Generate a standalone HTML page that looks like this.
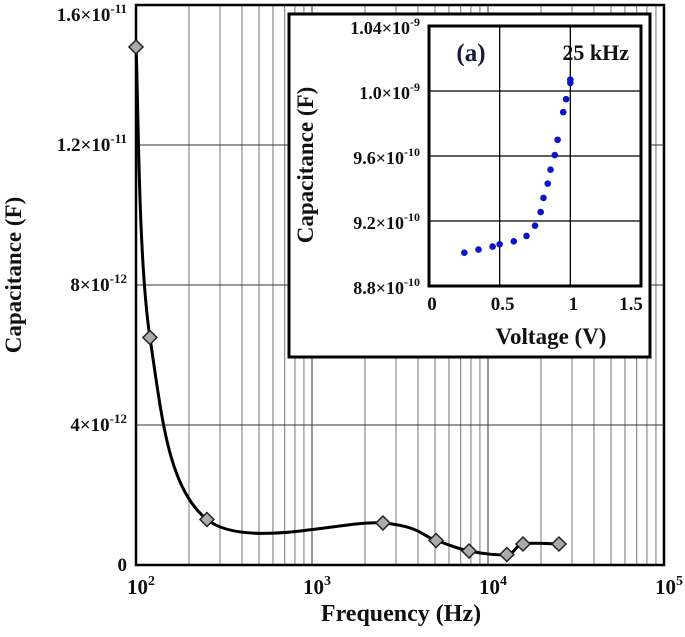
<!DOCTYPE html>
<html><head><meta charset="utf-8"><style>
body{margin:0;background:#fff;}
svg text{font-family:"Liberation Serif",serif;font-weight:bold;fill:#111;}
</style></head><body>
<svg id="chart" width="685" height="632" xmlns="http://www.w3.org/2000/svg"></svg>
<script>
const freqs=[100,120,253,2530,5070,7800,12800,15800,25300];
const caps=[14.8,6.5,1.3,1.2,0.7,0.4,0.3,0.6,0.6]; // x1e-12 F
const yTicks=[0,4,8,12,16];
const yTickLabels=["0","4×10","8×10","1.2×10","1.6×10"];
const yTickExp=["","-12","-12","-11","-11"];
const xDecades=[2,3,4,5];
const volts=[0.25,0.35,0.45,0.50,0.60,0.69,0.75,0.79,0.81,0.84,0.86,0.89,0.91,0.95,0.97,1.0,1.0];
const icaps=[9.005,9.024,9.043,9.057,9.075,9.108,9.171,9.255,9.342,9.43,9.516,9.606,9.70,9.87,9.95,10.05,10.07]; // x1e-10 F
const iyTicks=[8.8,9.2,9.6,10.0,10.4];
const iyMant=["8.8","9.2","9.6","1.0","1.04"];
const iyExp=["-10","-10","-10","-9","-9"];
const ixTicks=[0,0.5,1,1.5];
const ixLabels=["0","0.5","1","1.5"];

const NS="http://www.w3.org/2000/svg";
const svg=document.getElementById('chart');
function mk(tag,attrs,parent){const e=document.createElementNS(NS,tag);for(const k in attrs)e.setAttribute(k,attrs[k]);(parent||svg).appendChild(e);return e;}
const L=136,R=664,T=5,B=565;
const X=f=>L+(Math.log10(f)-2)*(R-L)/3;
const Y=v=>B-v*(B-T)/16;
for(let d=2;d<5;d++){for(let m=1;m<=9;m++){const x=X(m*Math.pow(10,d));if(m===1&&d===2)continue;
const g=mk('line',{x1:x,x2:x,y1:T,y2:B,stroke:'#555','stroke-width':m===1?1.2:0.8});

}}
yTicks.forEach((v,i)=>{if(v>0&&v<16){const g=mk('line',{x1:L,x2:R,y1:Y(v),y2:Y(v),stroke:'#333','stroke-width':1});

}
let yy=Y(v)+6; if(v===16) yy=Y(v)+16;
const t=mk('text',{x:127,y:yy,'text-anchor':'end','font-size':19});


t.textContent=yTickLabels[i];
if(yTickExp[i]){const s=mk('tspan',{dy:-8,'font-size':13},t);s.textContent=yTickExp[i];}
});
xDecades.forEach(d=>{const t=mk('text',{x:X(Math.pow(10,d))+5,y:594,'text-anchor':'middle','font-size':21});


t.textContent='10';const s=mk('tspan',{dy:-9,'font-size':14},t);s.textContent=String(d);});
const frame=mk('rect',{x:L,y:T,width:R-L,height:B-T,fill:'none',stroke:'#000','stroke-width':2.5});


const pts=freqs.map((f,i)=>[X(f),Y(caps[i])]);
let d='M'+pts[0][0]+','+pts[0][1];
for(let i=0;i<pts.length-1;i++){const p0=pts[Math.max(0,i-1)],p1=pts[i],p2=pts[i+1],p3=pts[Math.min(pts.length-1,i+2)];
const c1=[p1[0]+(p2[0]-p0[0])/6,p1[1]+(p2[1]-p0[1])/6],c2=[p2[0]-(p3[0]-p1[0])/6,p2[1]-(p3[1]-p1[1])/6];
d+=` C${c1[0]},${c1[1]} ${c2[0]},${c2[1]} ${p2[0]},${p2[1]}`;}
const path=mk('path',{d:d,fill:'none',stroke:'#000','stroke-width':3});


pts.forEach(p=>{const m=mk('polygon',{points:`${p[0]},${p[1]-7} ${p[0]+7},${p[1]} ${p[0]},${p[1]+7} ${p[0]-7},${p[1]}`,fill:'#aaa',stroke:'#222','stroke-width':1.5});

});
let t=mk('text',{x:401,y:621,'text-anchor':'middle','font-size':24});


t.textContent='Frequency (Hz)';
t=mk('text',{x:0,y:0,'text-anchor':'middle','font-size':23,transform:'translate(21,275) rotate(-90)'});


t.textContent='Capacitance (F)';
// inset
const ib=mk('rect',{x:289,y:14,width:361,height:343,fill:'#fff',stroke:'#000','stroke-width':3});


const iL=429,iR=641,iT=26,iB=286;
const IX=v=>iL+v*(iR-iL)/1.5;
const IY=c=>iB-(c-8.8)*(iB-iT)/1.6;
ixTicks.forEach((v,i)=>{if(v>0&&v<1.5){const g=mk('line',{x1:IX(v),x2:IX(v),y1:iT,y2:iB,stroke:'#000','stroke-width':1.3});

}
const tt=mk('text',{x:IX(v)+(v===1.5?-10:3),y:310,'text-anchor':'middle','font-size':19});


tt.textContent=ixLabels[i];});
iyTicks.forEach((v,i)=>{if(v>8.8&&v<10.4){const g=mk('line',{x1:iL,x2:iR,y1:IY(v),y2:IY(v),stroke:'#000','stroke-width':1.3});

}
const tt=mk('text',{x:420,y:IY(v)+8,'text-anchor':'end','font-size':18});


tt.textContent=iyMant[i]+'×10';const s=mk('tspan',{dy:-8,'font-size':12},tt);s.textContent=iyExp[i];});
const ifr=mk('rect',{x:iL,y:iT,width:iR-iL,height:iB-iT,fill:'none',stroke:'#000','stroke-width':3});


volts.forEach((v,i)=>{const c=mk('circle',{cx:IX(v),cy:IY(icaps[i]),r:3.3,fill:'#0a14c8'});

});
t=mk('text',{x:471,y:61,'text-anchor':'middle','font-size':25,style:'fill:#1a1a3a'});


t.textContent='(a)';
t=mk('text',{x:629,y:60,'text-anchor':'end','font-size':22});


t.textContent='25 kHz';
t=mk('text',{x:551,y:344,'text-anchor':'middle','font-size':23});


t.textContent='Voltage  (V)';
t=mk('text',{x:0,y:0,'text-anchor':'middle','font-size':23,transform:'translate(313,165) rotate(-90)'});


t.textContent='Capacitance  (F)';
</script>
</body></html>
